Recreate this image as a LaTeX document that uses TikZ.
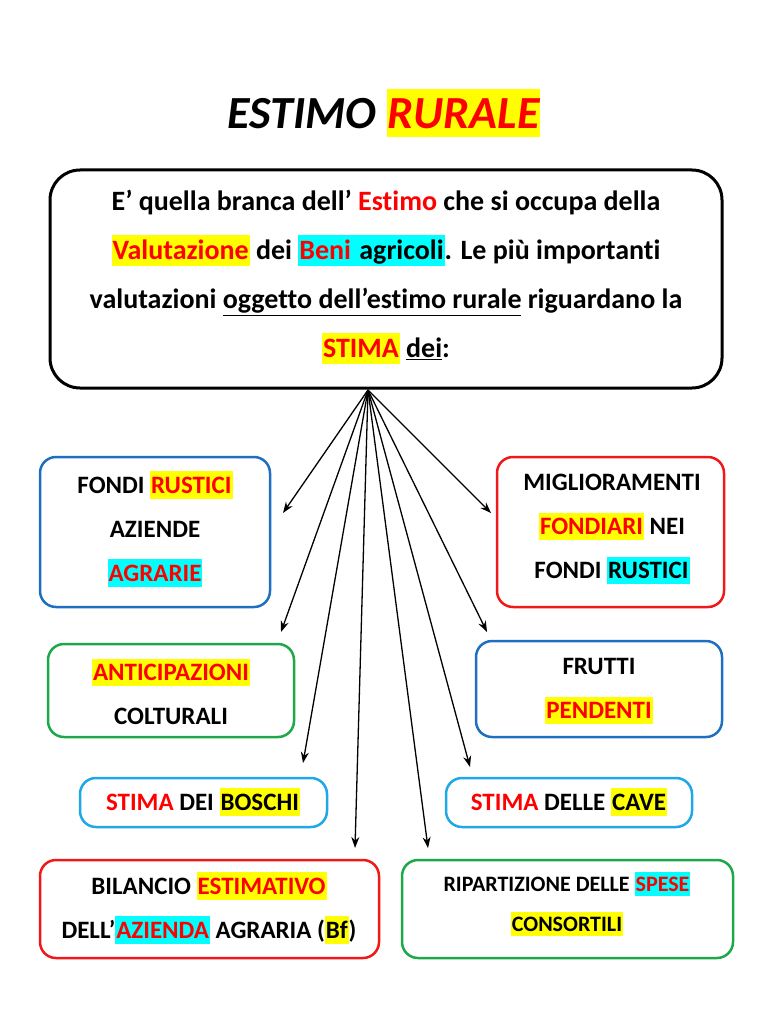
\documentclass[tikz,border=0pt]{standalone}
\usepackage{fontspec}
\setmainfont[Ligatures=NoCommon]{Carlito}
\usepackage{xcolor}
\usetikzlibrary{arrows.meta}
\definecolor{hy}{HTML}{FFFF00}
\definecolor{hc}{HTML}{00FFFF}
\definecolor{rd}{HTML}{FF0000}
\definecolor{bbl}{HTML}{1F6FC0}
\definecolor{bred}{HTML}{F01818}
\definecolor{bgr}{HTML}{1DA84A}
\definecolor{blt}{HTML}{1EA8E8}
\newcommand{\hy}[1]{{\setlength{\fboxsep}{1pt}\colorbox{hy}{\vphantom{Ág}#1}}}
\newcommand{\hc}[1]{{\setlength{\fboxsep}{1pt}\colorbox{hc}{\vphantom{Ág}#1}}}
\newcommand{\rd}[1]{\textcolor{rd}{#1}}
\begin{document}
\begin{tikzpicture}[x=1pt,y=-1pt,
  bx/.style={draw,line width=2.5pt,rounded corners=16pt},
  tx/.style={font=\bfseries\fontsize{25}{44}\selectfont,align=center},
  arr/.style={-{Stealth[length=11pt,width=8pt]},line width=1.3pt}]
\useasboundingbox (0,0) rectangle (768,1024);
\node (title) at (384,113) {\fontsize{46}{48}\selectfont\bfseries\itshape ESTIMO \hy{\rd{RURALE}}};
\draw[line width=3pt,rounded corners=30pt] (50,170) rectangle (722,388);
\node[align=center,font=\bfseries\fontsize{28}{49}\selectfont] (main) at (386,277) {E’ quella branca dell' \rd{Estimo} che si occupa della\\
\hy{\rd{Valutazione}} dei \hc{\rd{Beni}}\hc{ agricoli}. Le più importanti\\
valutazioni \underline{oggetto dell'estimo rurale} riguardano la\\
\hy{\rd{STIMA}} \underline{dei}:};
\coordinate (o) at (368,390);
\draw[bx,draw=bbl] (40,457) rectangle (270,607);
\node[tx] (a) at (155,529) {FONDI \hy{\rd{RUSTICI}}\\ AZIENDE\\ \hc{\rd{AGRARIE}}};
\draw[bx,draw=bred] (497,457) rectangle (724,607);
\node[tx] (b) at (612,529) {MIGLIORAMENTI\\ \hy{\rd{FONDIARI}} NEI\\ FONDI \hc{RUSTICI}};
\draw[bx,draw=bgr] (48,644) rectangle (294,737);
\node[tx] (c) at (171,692) {\hy{\rd{ANTICIPAZIONI}}\\ COLTURALI};
\draw[bx,draw=bbl] (476,641) rectangle (722,737);
\node[tx] (d) at (599,691) {FRUTTI\\ \hy{\rd{PENDENTI}}};
\draw[bx,draw=blt] (80,778) rectangle (327,827);
\node[tx] (e) at (203,802) {\rd{STIMA} DEI \hy{BOSCHI}};
\draw[bx,draw=blt] (446,778) rectangle (692,827);
\node[tx] (f) at (569,802) {\rd{STIMA} DELLE \hy{CAVE}};
\draw[bx,draw=bred] (40,860) rectangle (379,958);
\node[tx] (g) at (209,908) {BILANCIO \hy{\rd{ESTIMATIVO}}\\ DELL’\hc{\rd{AZIENDA}} AGRARIA (\hy{Bf})};
\draw[bx,draw=bgr] (402,860) rectangle (733,958);
\node[tx,font=\bfseries\fontsize{22}{40}\selectfont] (h) at (567,904) {RIPARTIZIONE DELLE \hc{\rd{SPESE}}\\ \hy{CONSORTILI}};
\coordinate (t1) at (283,513); \coordinate (t2) at (281,632);
\coordinate (t3) at (303,763); \coordinate (t4) at (355,848);
\coordinate (t5) at (428,848); \coordinate (t6) at (470,767);
\coordinate (t7) at (487,632); \coordinate (t8) at (491,513);
\foreach \t in {t1,t2,t3,t4,t5,t6,t7,t8} \draw[arr] (o) -- (\t);
\end{tikzpicture}
\end{document}
